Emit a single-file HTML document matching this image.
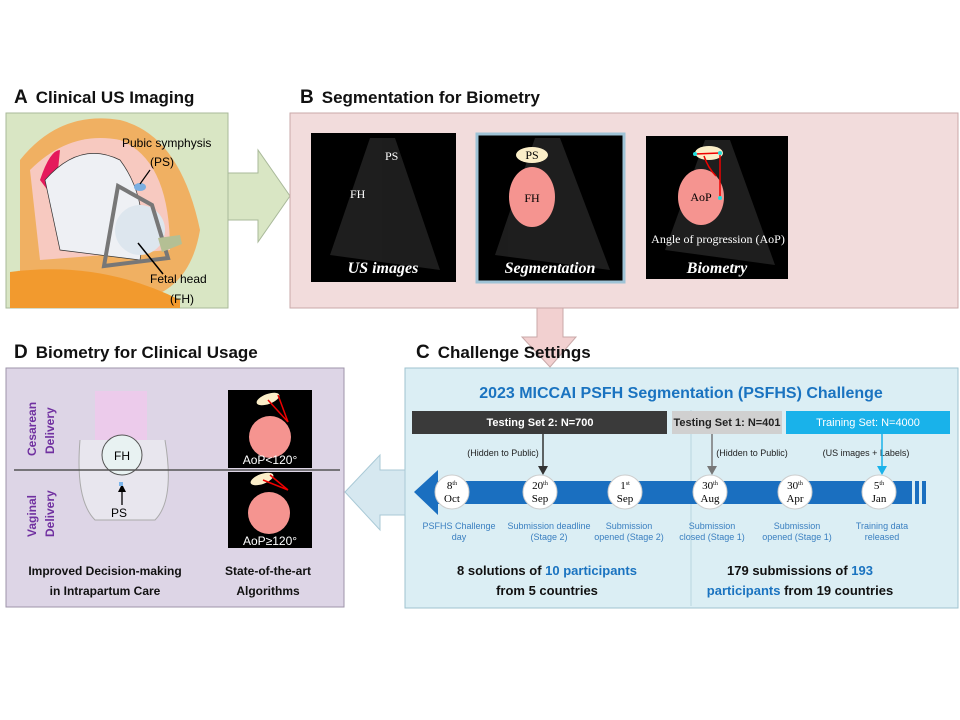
<!DOCTYPE html>
<html><head><meta charset="utf-8"><style>
body{margin:0;width:960px;height:720px;background:#fff;font-family:"Liberation Sans",sans-serif;position:relative;overflow:hidden}
.a{position:absolute}
.h{font-weight:bold;font-size:17px;color:#111}
.h b{font-size:19px;margin-right:8px}
</style></head><body>
<svg class="a" style="left:0;top:0" width="960" height="720">
<!-- panel A -->
<rect x="6" y="113" width="222" height="195" fill="#d9e6c4" stroke="#a9b99a"/>
<path d="M20,160 Q60,110 120,120 Q180,135 200,230 Q190,290 140,300 L20,300 Z" fill="#f5a34a" opacity=".8"/>
<path d="M30,170 Q70,130 120,140 Q170,160 170,250 L40,260 Z" fill="#f7c9c0"/>
<path d="M40,180 Q50,150 60,150 L55,200 Z" fill="#e5195b"/>
<path d="M45,180 Q80,140 120,160 Q150,200 140,260 L60,250 Z" fill="#eef0f4" stroke="#333" stroke-width=".7"/>
<path d="M10,272 Q100,260 180,300 L180,308 L10,308Z" fill="#f29a2e"/>
<circle cx="140" cy="230" r="25" fill="#dde6ee"/>
<path d="M118,186 L152,205 L168,258 L104,266 Z" fill="none" stroke="#777" stroke-width="4"/>
<path d="M158,238 L180,235 L182,244 L162,252Z" fill="#b4bf94"/>
<ellipse cx="140" cy="187" rx="6" ry="4" fill="#7aaee0"/>
<line x1="150" y1="170" x2="140" y2="184" stroke="#000" stroke-width="1.2"/>
<line x1="163" y1="274" x2="138" y2="243" stroke="#000" stroke-width="1.5"/>
<text x="122" y="147" font-size="12">Pubic symphysis</text>
<text x="150" y="166" font-size="12">(PS)</text>
<text x="150" y="283" font-size="12">Fetal head</text>
<text x="170" y="303" font-size="12">(FH)</text>
<!-- arrow A->B -->
<path d="M228,173 L258,173 L258,150 L290,196 L258,242 L258,220 L228,220Z" fill="#d9e6c4" stroke="#a9b99a"/>
<!-- panel B -->
<rect x="290" y="113" width="668" height="195" fill="#f2dcdc" stroke="#c9a9a9"/>
<rect x="311" y="133" width="145" height="149" fill="#000"/>
<rect x="477" y="134" width="147" height="148" fill="#000" stroke="#9fc3d6" stroke-width="3"/>
<rect x="646" y="136" width="142" height="143" fill="#000"/>
<g fill="#555" opacity=".35">
<path d="M370,138 L330,255 L440,270 L395,138Z"/>
<path d="M535,138 L495,255 L610,270 L560,138Z"/>
<path d="M705,140 L665,250 L775,265 L730,140Z"/>
</g>
<text x="385" y="160" fill="#fff" font-family="Liberation Serif" font-size="12">PS</text>
<text x="350" y="198" fill="#fff" font-family="Liberation Serif" font-size="12">FH</text>
<ellipse cx="532" cy="155" rx="16" ry="8" fill="#fbeec8"/>
<text x="532" y="159" fill="#000" font-family="Liberation Serif" font-size="12" text-anchor="middle">PS</text>
<ellipse cx="532" cy="197" rx="23" ry="30" fill="#f59490"/>
<text x="532" y="202" fill="#000" font-family="Liberation Serif" font-size="12" text-anchor="middle">FH</text>
<ellipse cx="709" cy="153" rx="14" ry="7" fill="#fbeec8"/>
<ellipse cx="701" cy="197" rx="23" ry="28" fill="#f59490"/>
<line x1="695" y1="154" x2="720" y2="153" stroke="#e00" stroke-width="1.5"/>
<line x1="720" y1="153" x2="720" y2="198" stroke="#e00" stroke-width="1.5"/>
<path d="M704,156 Q708,168 716,176" stroke="#e00" fill="none" stroke-width="1.5"/>
<circle cx="695" cy="154" r="2" fill="#2dd"/><circle cx="720" cy="153" r="2" fill="#2dd"/><circle cx="720" cy="198" r="2" fill="#2dd"/>
<text x="701" y="201" font-family="Liberation Serif" font-size="12" text-anchor="middle">AoP</text>
<text x="718" y="243" fill="#fff" font-family="Liberation Serif" font-size="12" text-anchor="middle">Angle of progression (AoP)</text>
<g fill="#fff" font-family="Liberation Serif" font-size="16" font-weight="bold" font-style="italic" text-anchor="middle">
<text x="383" y="273">US images</text><text x="550" y="273">Segmentation</text><text x="717" y="273">Biometry</text></g>
<!-- down arrow -->
<path d="M537,308 L563,308 L563,337 L576,337 L550,367 L522,337 L537,337Z" fill="#f2d0d0" stroke="#c9a9a9"/>
<!-- panel C -->
<rect x="405" y="368" width="553" height="240" fill="#dbeef4" stroke="#9fc3cf"/>
<line x1="691" y1="410" x2="691" y2="606" stroke="#b9d6e0"/>
<text x="681" y="398" fill="#1a73c0" font-size="16" font-weight="bold" text-anchor="middle">2023 MICCAI PSFH Segmentation (PSFHS) Challenge</text>
<rect x="412" y="411" width="255" height="23" fill="#3a3a3a"/>
<rect x="672" y="411" width="110" height="23" fill="#d0d0d0"/>
<rect x="786" y="411" width="164" height="23" fill="#19b2ea"/>
<g font-size="11" font-weight="bold" text-anchor="middle">
<text x="540" y="426" fill="#fff">Testing Set 2: N=700</text>
<text x="727" y="426" fill="#222">Testing Set 1: N=401</text>
<text x="868" y="426" fill="#fff" font-weight="normal">Training Set: N=4000</text></g>
<g font-size="9" fill="#222" text-anchor="middle">
<text x="503" y="456">(Hidden to Public)</text>
<text x="752" y="456">(Hidden to Public)</text>
<text x="866" y="456">(US images + Labels)</text></g>
<line x1="543" y1="434" x2="543" y2="470" stroke="#333" stroke-width="1.5"/><path d="M538,466 L543,475 L548,466Z" fill="#333"/>
<line x1="712" y1="434" x2="712" y2="470" stroke="#777" stroke-width="1.5"/><path d="M707,466 L712,475 L717,466Z" fill="#777"/>
<line x1="882" y1="434" x2="882" y2="470" stroke="#19b2ea" stroke-width="1.5"/><path d="M877,466 L882,475 L887,466Z" fill="#19b2ea"/>
<path d="M414,492 L438,470 L438,481 L912,481 L912,504 L438,504 L438,515Z" fill="#1a6fc0"/>
<rect x="915" y="481" width="4" height="23" fill="#1a6fc0"/><rect x="922" y="481" width="4" height="23" fill="#1a6fc0"/>
<g font-family="Liberation Serif" font-size="11" text-anchor="middle">
<g fill="#fff" stroke="#ccc"><circle cx="452" cy="492" r="17"/><circle cx="540" cy="492" r="17"/><circle cx="625" cy="492" r="17"/><circle cx="710" cy="492" r="17"/><circle cx="795" cy="492" r="17"/><circle cx="879" cy="492" r="17"/></g>
<text x="452" y="489">8<tspan font-size="6" dy="-4">th</tspan></text><text x="452" y="502">Oct</text>
<text x="540" y="489">20<tspan font-size="6" dy="-4">th</tspan></text><text x="540" y="502">Sep</text>
<text x="625" y="489">1<tspan font-size="6" dy="-4">st</tspan></text><text x="625" y="502">Sep</text>
<text x="710" y="489">30<tspan font-size="6" dy="-4">th</tspan></text><text x="710" y="502">Aug</text>
<text x="795" y="489">30<tspan font-size="6" dy="-4">th</tspan></text><text x="795" y="502">Apr</text>
<text x="879" y="489">5<tspan font-size="6" dy="-4">th</tspan></text><text x="879" y="502">Jan</text></g>
<g font-size="9" fill="#3a7fc0" text-anchor="middle">
<text x="459" y="529">PSFHS Challenge</text><text x="459" y="540">day</text>
<text x="549" y="529">Submission deadline</text><text x="549" y="540">(Stage 2)</text>
<text x="629" y="529">Submission</text><text x="629" y="540">opened (Stage 2)</text>
<text x="712" y="529">Submission</text><text x="712" y="540">closed (Stage 1)</text>
<text x="797" y="529">Submission</text><text x="797" y="540">opened (Stage 1)</text>
<text x="882" y="529">Training data</text><text x="882" y="540">released</text></g>
<g font-size="13" font-weight="bold" text-anchor="middle" fill="#111">
<text x="547" y="575">8 solutions of <tspan fill="#1a73c0">10 participants</tspan></text>
<text x="547" y="595">from 5 countries</text>
<text x="800" y="575">179 submissions of <tspan fill="#1a73c0">193</tspan></text>
<text x="800" y="595"><tspan fill="#1a73c0">participants</tspan> from 19 countries</text></g>
<!-- arrow C->D -->
<path d="M405,470 L380,470 L380,455 L345,492 L380,530 L380,515 L405,515Z" fill="#d6e8f0" stroke="#a9c9d6"/>
<!-- panel D -->
<rect x="6" y="368" width="338" height="239" fill="#ddd5e6" stroke="#9e94aa"/>
<rect x="95" y="391" width="52" height="78" fill="#f0c8ec" opacity=".8"/>
<path d="M80,440 Q75,500 95,520 L155,520 Q175,500 165,440" fill="#e8e6ee" stroke="#aaa"/>
<circle cx="122" cy="455" r="20" fill="#e8f2f2" stroke="#555"/>
<text x="122" y="460" font-size="12" text-anchor="middle">FH</text>
<line x1="122" y1="505" x2="122" y2="490" stroke="#000" stroke-width="1.3"/><path d="M118,492 L122,484 L126,492Z"/>
<rect x="119" y="482" width="4" height="4" fill="#7ab4ea"/>
<text x="119" y="517" font-size="12" text-anchor="middle">PS</text>
<line x1="14" y1="470" x2="340" y2="470" stroke="#555" stroke-width="1.5"/>
<g fill="#7030a0" font-size="12" font-weight="bold">
<text transform="translate(36,456) rotate(-90)">Cesarean</text>
<text transform="translate(54,454) rotate(-90)">Delivery</text>
<text transform="translate(36,537) rotate(-90)">Vaginal</text>
<text transform="translate(54,537) rotate(-90)">Delivery</text></g>
<rect x="228" y="390" width="84" height="78" fill="#000"/>
<rect x="228" y="472" width="84" height="76" fill="#000"/>
<circle cx="270" cy="437" r="21" fill="#f59490"/><circle cx="269" cy="513" r="21" fill="#f59490"/>
<ellipse cx="268" cy="399" rx="12" ry="5" fill="#fbeec8" transform="rotate(-20 268 399)"/>
<ellipse cx="262" cy="479" rx="12" ry="5" fill="#fbeec8" transform="rotate(-20 262 479)"/>
<path d="M268,400 L288,422 M278,395 L288,422" stroke="#e00" stroke-width="1.5"/>
<path d="M263,480 L288,490 M270,475 L288,490" stroke="#e00" stroke-width="1.5"/>
<text x="270" y="464" fill="#fff" font-size="12" text-anchor="middle">AoP&lt;120°</text>
<text x="270" y="545" fill="#fff" font-size="12" text-anchor="middle">AoP≥120°</text>
<g font-size="12" font-weight="bold" text-anchor="middle" fill="#111">
<text x="105" y="575">Improved Decision-making</text><text x="105" y="595">in Intrapartum Care</text>
<text x="268" y="575">State-of-the-art</text><text x="268" y="595">Algorithms</text></g>
</svg>
<div class="a h" style="left:14px;top:87px"><b>A</b>Clinical US Imaging</div>
<div class="a h" style="left:300px;top:87px"><b>B</b>Segmentation for Biometry</div>
<div class="a h" style="left:14px;top:342px"><b>D</b>Biometry for Clinical Usage</div>
<div class="a h" style="left:416px;top:342px"><b>C</b>Challenge Settings</div>
</body></html>
